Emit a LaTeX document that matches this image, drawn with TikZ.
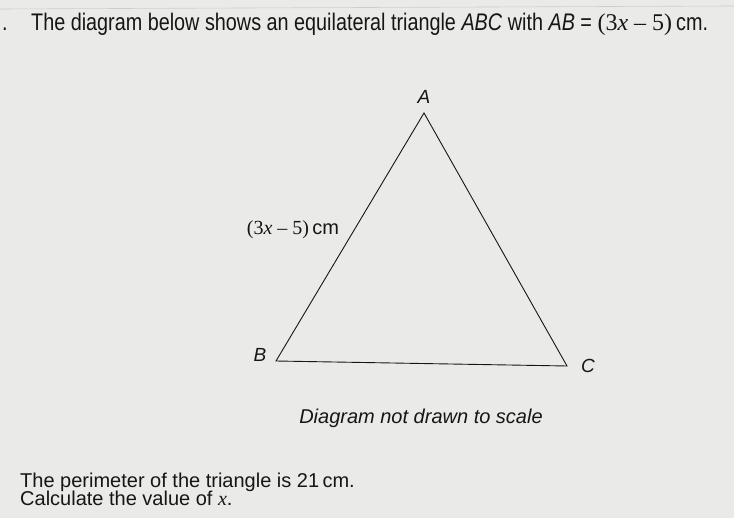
\documentclass[tikz,border=0pt]{standalone}
\usepackage{fontspec}
\setmainfont{Liberation Sans}
\newfontfamily\numfont{Liberation Serif}
\newfontfamily\narrowsans[FakeStretch=0.825]{Liberation Sans}
\usetikzlibrary{positioning}
\definecolor{paper}	{RGB}{234,234,232}
\definecolor{ink}	{RGB}{22,22,22}
\definecolor{rule}	{RGB}{205,205,205}
\tikzstyle{side}=	[line width=0.9pt, draw=ink, line join=miter]
\tikzstyle{vname}=	[inner sep=0pt, text=ink, font=\fontsize{19}{19}\selectfont\itshape]
\tikzstyle{say}=	[inner sep=0pt, anchor=base west, text=ink, align=left]
\tikzstyle{head}=	[say, font=\narrowsans\fontsize{24}{24}\selectfont]
\tikzstyle{task}=	[say, font=\fontsize{20}{19}\selectfont]
\newcommand{\ablen}{{\numfont(3\textit{x} – 5)}\,cm}

\begin{document}
\begin{tikzpicture}[x=1pt, y=-1pt]

	%%% page
	\fill[paper] (0,0) rectangle (734,518);
	\useasboundingbox (0,0) rectangle (734,518);
	\draw[rule, line width=0.6pt] (0,9) -- (734,6);

	%%% question text
	\node[head] (dot) at (2,31) {.};
	\node[head] (q) at (31,31) {The diagram below shows an equilateral triangle \textit{ABC} with \textit{AB} = \ablen.};

	%%% triangle
	% corners
	\coordinate (A) at (424,113);
	\coordinate (B) at (276,361);
	\coordinate (C) at (567,366);

	% sides
	\draw[side] (A) -- (B) -- (C) -- cycle;

	% names
	\node[vname] (An) at (424,97) {A};
	\node[vname] (Bn) at (260,355) {B};
	\node[vname] (Cn) at (588,366) {C};

	% length
	\node[inner sep=0pt, text=ink, font=\fontsize{20}{20}\selectfont] (len) at (293,230) {\ablen};

	% note
	\node[inner sep=0pt, text=ink, font=\fontsize{20}{20}\selectfont\itshape] (note) at (421,418) {Diagram not drawn to scale};

	%%% task
	\node[task] (t1) at (20,488) {The perimeter of the triangle is 21\,cm.};
	\node[task] (t2) at (20,506) {Calculate the value of {\numfont\textit{x}}.};

\end{tikzpicture}
\end{document}
